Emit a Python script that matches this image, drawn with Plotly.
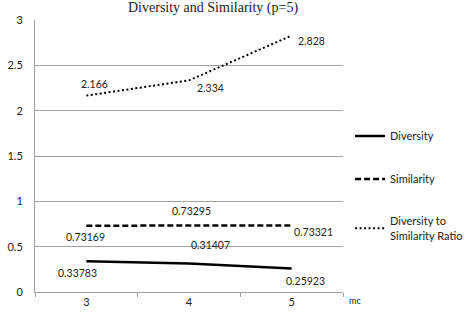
import plotly.graph_objects as go

categories = ["3", "4", "5"]
diversity = [0.33783, 0.31407, 0.25923]
similarity = [0.73169, 0.73295, 0.73321]
ratio = [2.166, 2.334, 2.828]
diversity_labels = ["0.33783", "0.31407", "0.25923"]
similarity_labels = ["0.73169", "0.73295", "0.73321"]
ratio_labels = ["2.166", "2.334", "2.828"]
y_ticks = [0, 0.5, 1, 1.5, 2, 2.5, 3]
y_tick_labels = ["0", "0.5", "1", "1.5", "2", "2.5", "3"]

FONT = "Lato"
fig = go.Figure()

series = [
    ("Diversity", diversity, "solid", 2.5, diversity_labels, [(-9, -12), (21, 19), (14, -12)]),
    ("Similarity", similarity, "6px,3px", 2.5, similarity_labels, [(-1, -11), (2, 15), (22, -6)]),
    ("Diversity to<br>Similarity Ratio", ratio, "2px,2.5px", 2, ratio_labels, [(8, 12), (21, -8), (20, -5)]),
]

for i, (name, vals, dash, w, labels, shifts) in enumerate(series):
    fig.add_trace(go.Scatter(
        x=categories, y=vals, mode="lines", name=name,
        line=dict(color="black", width=w, dash=dash),
        legendgroup=f"g{i}", hoverinfo="skip",
    ))
    for idx, (v, t, (dx, dy)) in enumerate(zip(vals, labels, shifts)):
        fig.add_annotation(x=idx, y=v, xref="x", yref="y", text=t, showarrow=False,
                           xshift=dx, yshift=dy,
                           font=dict(family=FONT, size=10.5, color="#222"))

fig.add_annotation(x=1, y=0, xref="paper", yref="paper", text="mc", showarrow=False,
                   xanchor="left", yanchor="top", xshift=4, yshift=-1,
                   font=dict(family=FONT, size=9, color="#222"))

fig.update_layout(
    width=474, height=325,
    margin=dict(l=35, r=131, t=20, b=33, autoexpand=False),
    paper_bgcolor="white", plot_bgcolor="white",
    title=dict(text="Diversity and Similarity (p=5)", x=0.578, xanchor="center",
               xref="paper", y=0.977, yanchor="middle",
               font=dict(family="Liberation Serif", size=14, color="#222")),
    font=dict(family=FONT, size=11, color="#222"),
    showlegend=True,
    legend=dict(x=1.023, y=0.627, xanchor="left", yanchor="top",
                tracegroupgap=24, font=dict(family=FONT, size=11, color="#222"),
                bgcolor="rgba(0,0,0,0)", itemclick=False),
    xaxis=dict(type="category", range=[-0.5, 2.5], showgrid=False,
               showline=True, linecolor="#a0a0a0", linewidth=1,
               ticks="outside", tickson="boundaries", ticklen=4, tickcolor="#a0a0a0",
               zeroline=False, fixedrange=True),
    yaxis=dict(range=[0, 3], tickvals=y_ticks, ticktext=y_tick_labels,
               showgrid=True, gridcolor="#a0a0a0", gridwidth=1,
               showline=True, linecolor="#a0a0a0", linewidth=1,
               ticks="", ticklabelstandoff=9, zeroline=False, fixedrange=True),
)

fig.write_html("out.html")
